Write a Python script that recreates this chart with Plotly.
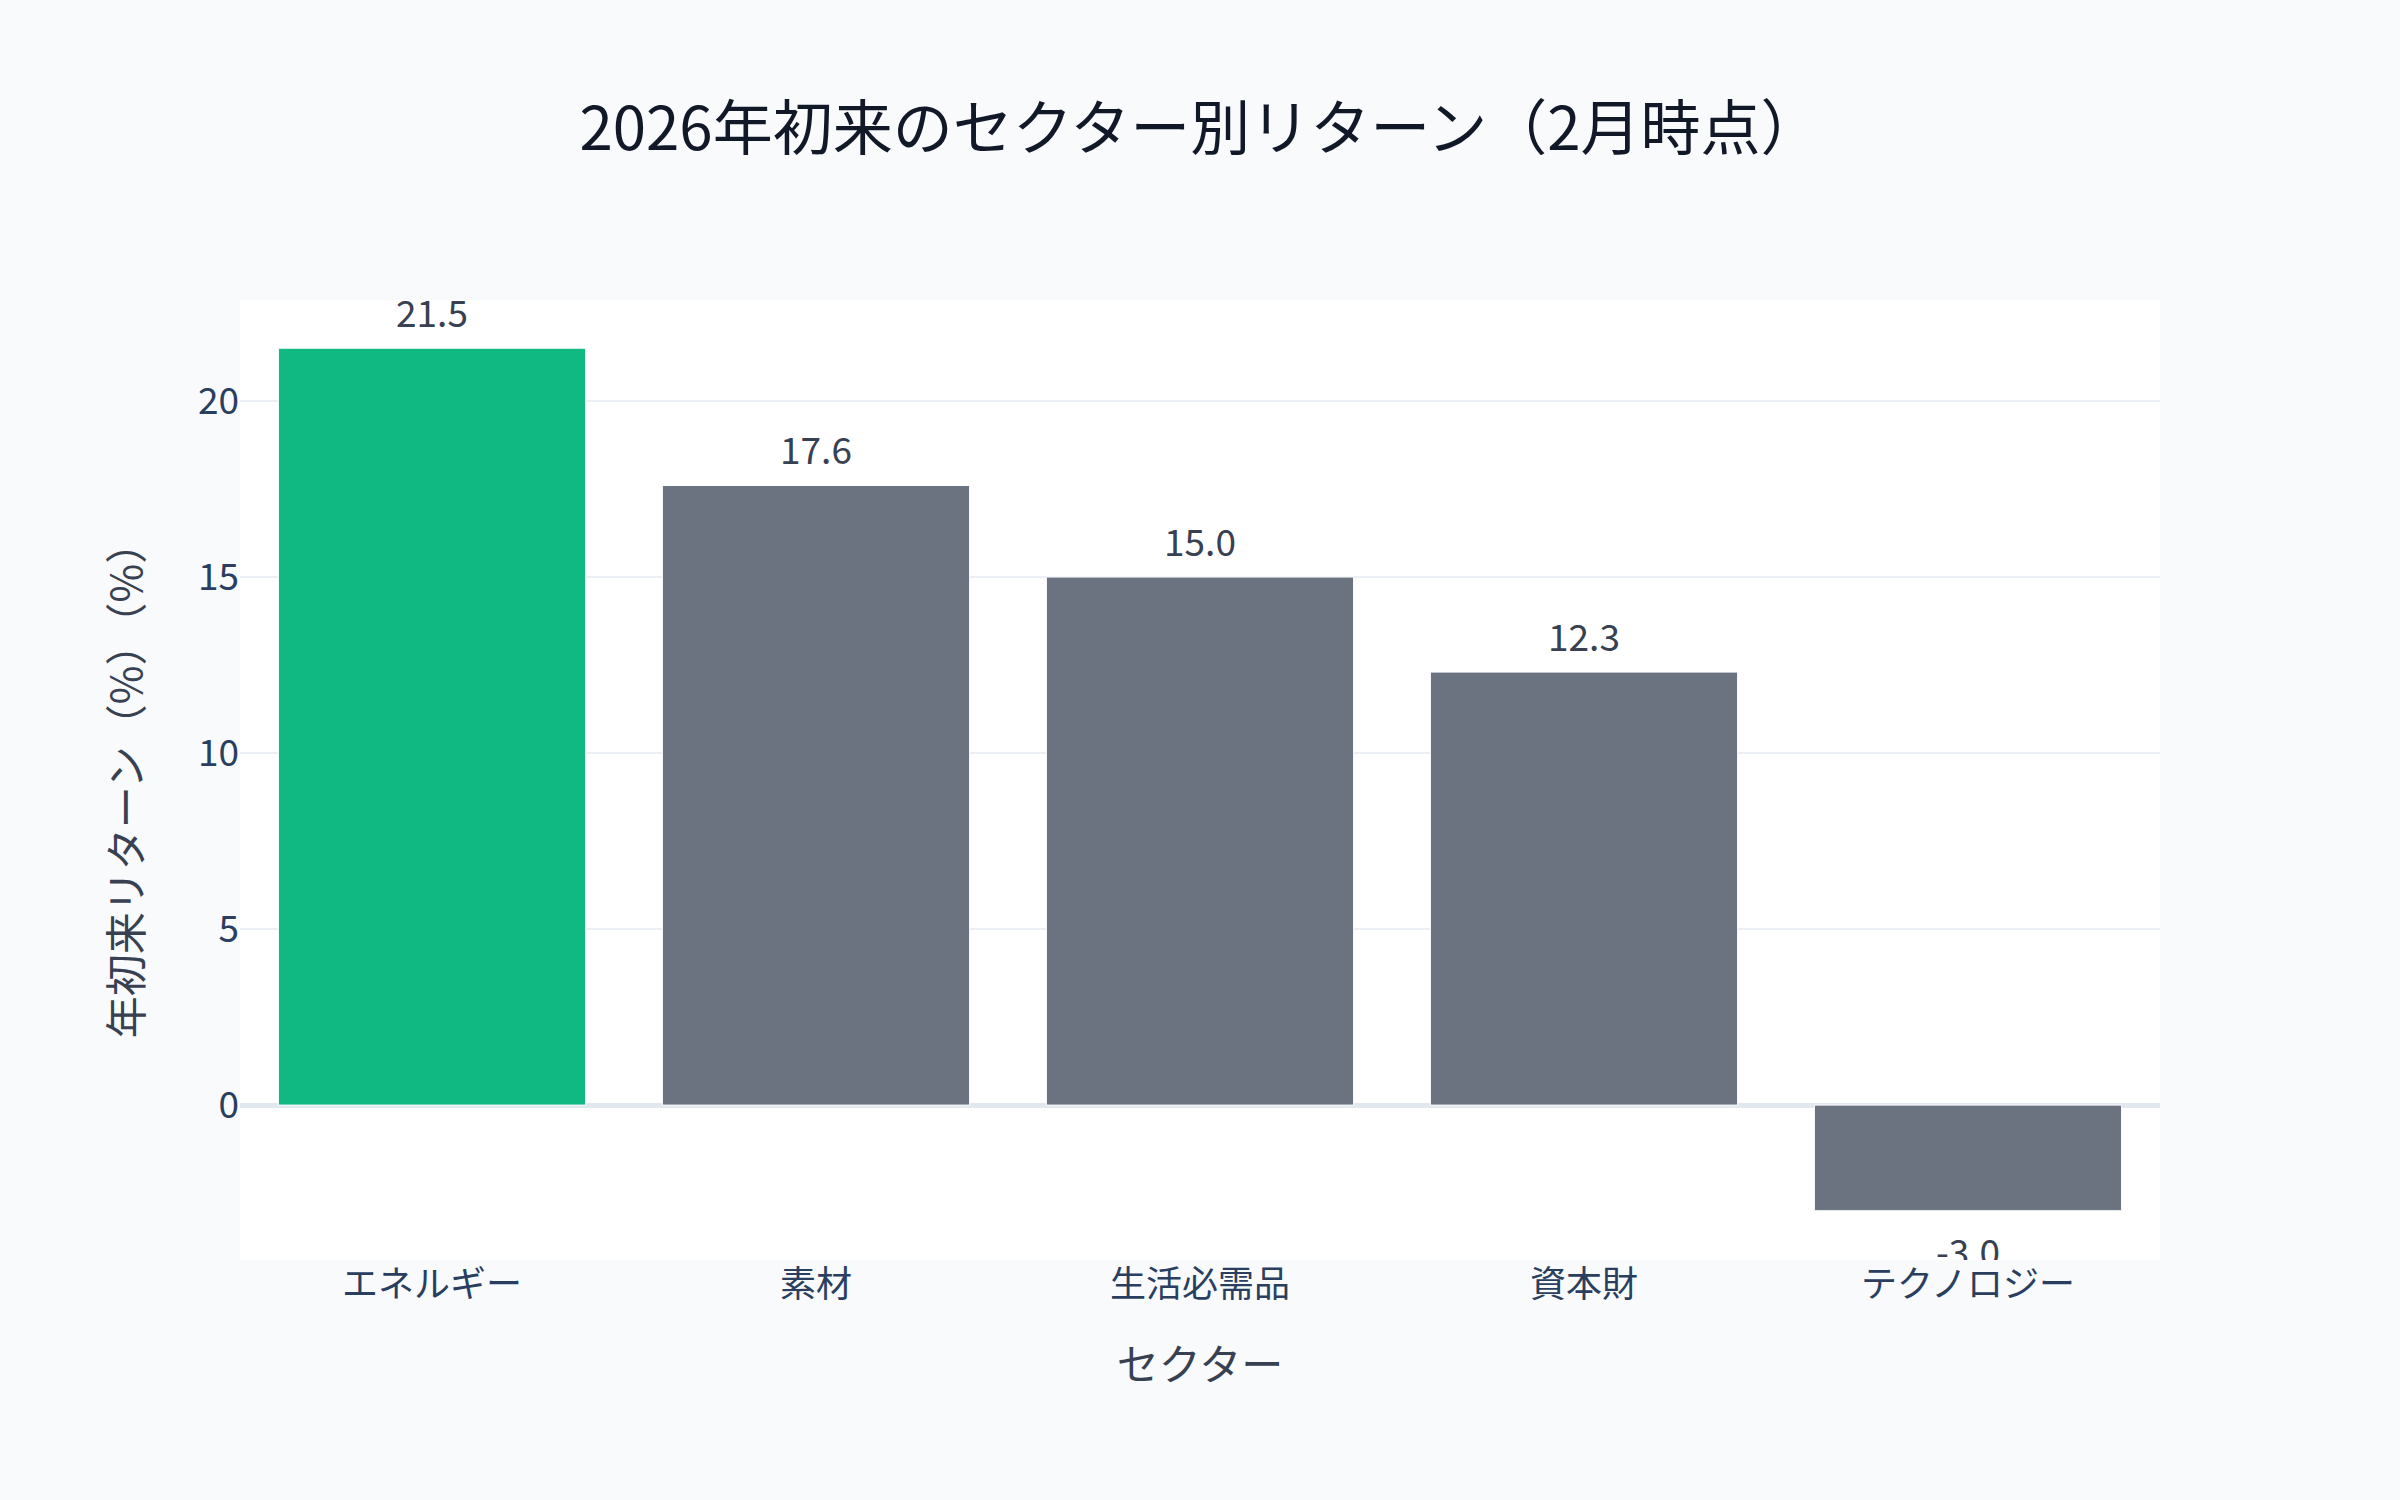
import plotly.graph_objects as go

sectors = ["エネルギー", "素材", "生活必需品", "資本財", "テクノロジー"]
returns = [21.5, 17.6, 15.0, 12.3, -3.0]
bar_colors = ["#10b981", "#6b7280", "#6b7280", "#6b7280", "#6b7280"]
labels = [f"{v:.1f}" for v in returns]

FONT = "Noto Sans CJK JP, Noto Sans, sans-serif"

fig = go.Figure()
fig.add_trace(
    go.Bar(
        x=sectors,
        y=returns,
        marker=dict(color=bar_colors, line=dict(color="#ffffff", width=1)),
        hoverinfo="x+y",
    )
)
# value labels drawn just outside each bar end, clipped by the plot area like the reference
fig.add_trace(
    go.Scatter(
        x=sectors,
        y=returns,
        mode="markers+text",
        marker=dict(size=[18 if v >= 0 else 42 for v in returns], opacity=0, color="#ffffff"),
        text=labels,
        textposition=["top center" if v >= 0 else "bottom center" for v in returns],
        textfont=dict(family=FONT, size=37, color="#374151"),
        cliponaxis=True,
        hoverinfo="skip",
    )
)

fig.update_layout(
    width=2400,
    height=1500,
    margin=dict(l=240, r=240, t=300, b=240),
    paper_bgcolor="#f8fafc",
    plot_bgcolor="#ffffff",
    font=dict(family=FONT, size=37, color="#2a3f5f"),
    title=dict(
        text="2026年初来のセクター別リターン（2月時点）",
        x=0.5,
        xanchor="center",
        y=1 - 129 / 1500,
        yanchor="middle",
        font=dict(family=FONT, size=60, color="#111827"),
    ),
    showlegend=False,
    bargap=0.2,
    xaxis=dict(
        title=dict(text="セクター", font=dict(size=42, color="#374151"), standoff=44),
        tickfont=dict(size=36, color="#2a3f5f"),
        showgrid=False,
        showline=False,
        ticks="",
    ),
    yaxis=dict(
        title=dict(text="年初来リターン（%）（%）", font=dict(size=42, color="#374151"), standoff=42),
        tickfont=dict(size=37, color="#2a3f5f"),
        range=[-4.4, 22.87],
        tickvals=[0, 5, 10, 15, 20],
        showgrid=True,
        gridcolor="#eceff3",
        gridwidth=2,
        zeroline=True,
        zerolinecolor="#e2e8f0",
        zerolinewidth=5,
        ticks="",
    ),
)

fig.write_html("out.html")
